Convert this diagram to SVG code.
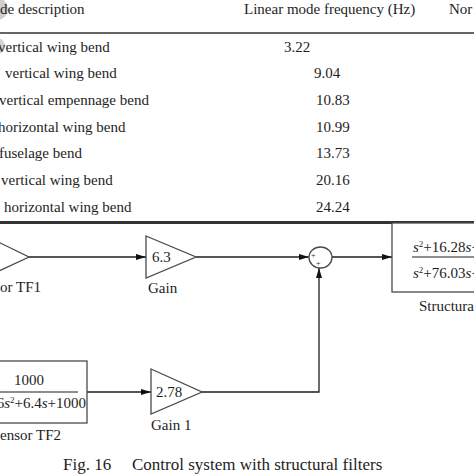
<svg xmlns="http://www.w3.org/2000/svg" width="474" height="474" viewBox="0 0 474 474">
<defs>
<style>
text{font-family:"Liberation Serif","Times New Roman",serif;fill:#1e1e1e}
.t{font-size:15px}
.d{font-size:15px}
.cap{font-size:17px}
.i{font-style:italic}
.ln{stroke:#1e1e1e;stroke-width:1.3;fill:none}
.blk{stroke:#4a4a4a;stroke-width:1.3;fill:#fff}
.rule{stroke:#333;fill:none}
</style>
<marker id="ah" viewBox="0 0 10 6" refX="10" refY="3" markerWidth="10" markerHeight="6" markerUnits="userSpaceOnUse" orient="auto">
<path d="M0,0 L10,3 L0,6 z" fill="#111"/>
</marker>
</defs>
<rect width="474" height="474" fill="#fff"/>
<g id="marks">
<circle cx="-3" cy="9" r="11" fill="#cfcfcf"/>
<circle cx="-3" cy="46" r="8" fill="#d4d4d4"/>
</g>
<g id="table">
<text class="t" x="0" y="14">de description</text>
<text class="t" x="244" y="14">Linear mode frequency (Hz)</text>
<text class="t" x="449" y="14">Nor</text>
<line class="rule" x1="0" y1="33" x2="474" y2="33" stroke-width="1.3"/>
<text class="t" x="-2" y="52">vertical wing bend</text>
<text class="t" x="5" y="78">vertical wing bend</text>
<text class="t" x="-1" y="105">vertical empennage bend</text>
<text class="t" x="-2" y="132">horizontal wing bend</text>
<text class="t" x="-1" y="158">fuselage bend</text>
<text class="t" x="1" y="185">vertical wing bend</text>
<text class="t" x="4" y="212">horizontal wing bend</text>
<text class="t" x="284" y="52">3.22</text>
<text class="t" x="314" y="78">9.04</text>
<text class="t" x="316" y="105">10.83</text>
<text class="t" x="316" y="132">10.99</text>
<text class="t" x="316" y="158">13.73</text>
<text class="t" x="316" y="185">20.16</text>
<text class="t" x="316" y="212">24.24</text>
<line class="rule" x1="0" y1="222.5" x2="474" y2="222.5" stroke-width="2.8"/>
</g>
<g id="connectors">
<line class="ln" x1="29" y1="257" x2="146" y2="257" marker-end="url(#ah)"/>
<line class="ln" x1="196" y1="257" x2="309" y2="257" marker-end="url(#ah)"/>
<line class="ln" x1="332" y1="257" x2="392" y2="257" marker-end="url(#ah)"/>
<line class="ln" x1="87" y1="392" x2="151" y2="392" marker-end="url(#ah)"/>
<polyline class="ln" points="202,392 319,392 319,268" marker-end="url(#ah)"/>
</g>
<g id="sensorTF1">
<polygon class="blk" points="-12,237 29,257 -12,276"/>
<text class="d" x="0" y="292">or TF1</text>
</g>
<g id="gain">
<polygon class="blk" points="146,236 196,257 146,278"/>
<text class="d" x="152" y="262">6.3</text>
<text class="d" x="148" y="293">Gain</text>
</g>
<g id="sum">
<ellipse class="blk" cx="320.5" cy="257.5" rx="11.5" ry="10.5"/>
<text x="311" y="258" style="font-size:8px">+</text>
<text x="316" y="266" style="font-size:8px">+</text>
</g>
<g id="structural">
<rect class="blk" x="392" y="223" width="100" height="69"/>
<text class="d" x="413" y="252"><tspan class="i">s</tspan><tspan dy="-5" style="font-size:9px">2</tspan><tspan dy="5">+16.28</tspan><tspan class="i">s</tspan>+</text>
<line x1="412" y1="257" x2="474" y2="257" stroke="#1e1e1e" stroke-width="1.1"/>
<text class="d" x="413" y="278"><tspan class="i">s</tspan><tspan dy="-5" style="font-size:9px">2</tspan><tspan dy="5">+76.03</tspan><tspan class="i">s</tspan>+</text>
<text class="d" x="419" y="311">Structura</text>
</g>
<g id="sensorTF2">
<rect class="blk" x="-10" y="361" width="97" height="62"/>
<text class="d" x="14" y="385">1000</text>
<line x1="0" y1="392" x2="78" y2="392" stroke="#1e1e1e" stroke-width="1.1"/>
<text class="d" x="86" y="408" text-anchor="end">6<tspan class="i">s</tspan><tspan dy="-5" style="font-size:9px">2</tspan><tspan dy="5">+6.4</tspan><tspan class="i">s</tspan>+1000</text>
<text class="d" x="0" y="440">ensor TF2</text>
</g>
<g id="gain1">
<polygon class="blk" points="151,369 202,392 151,414"/>
<text class="d" x="156" y="397">2.78</text>
<text class="d" x="151" y="430">Gain 1</text>
</g>
<g id="caption">
<text class="cap" x="63" y="470">Fig. 16</text>
<text class="cap" x="132" y="470">Control system with structural filters</text>
</g>
</svg>
